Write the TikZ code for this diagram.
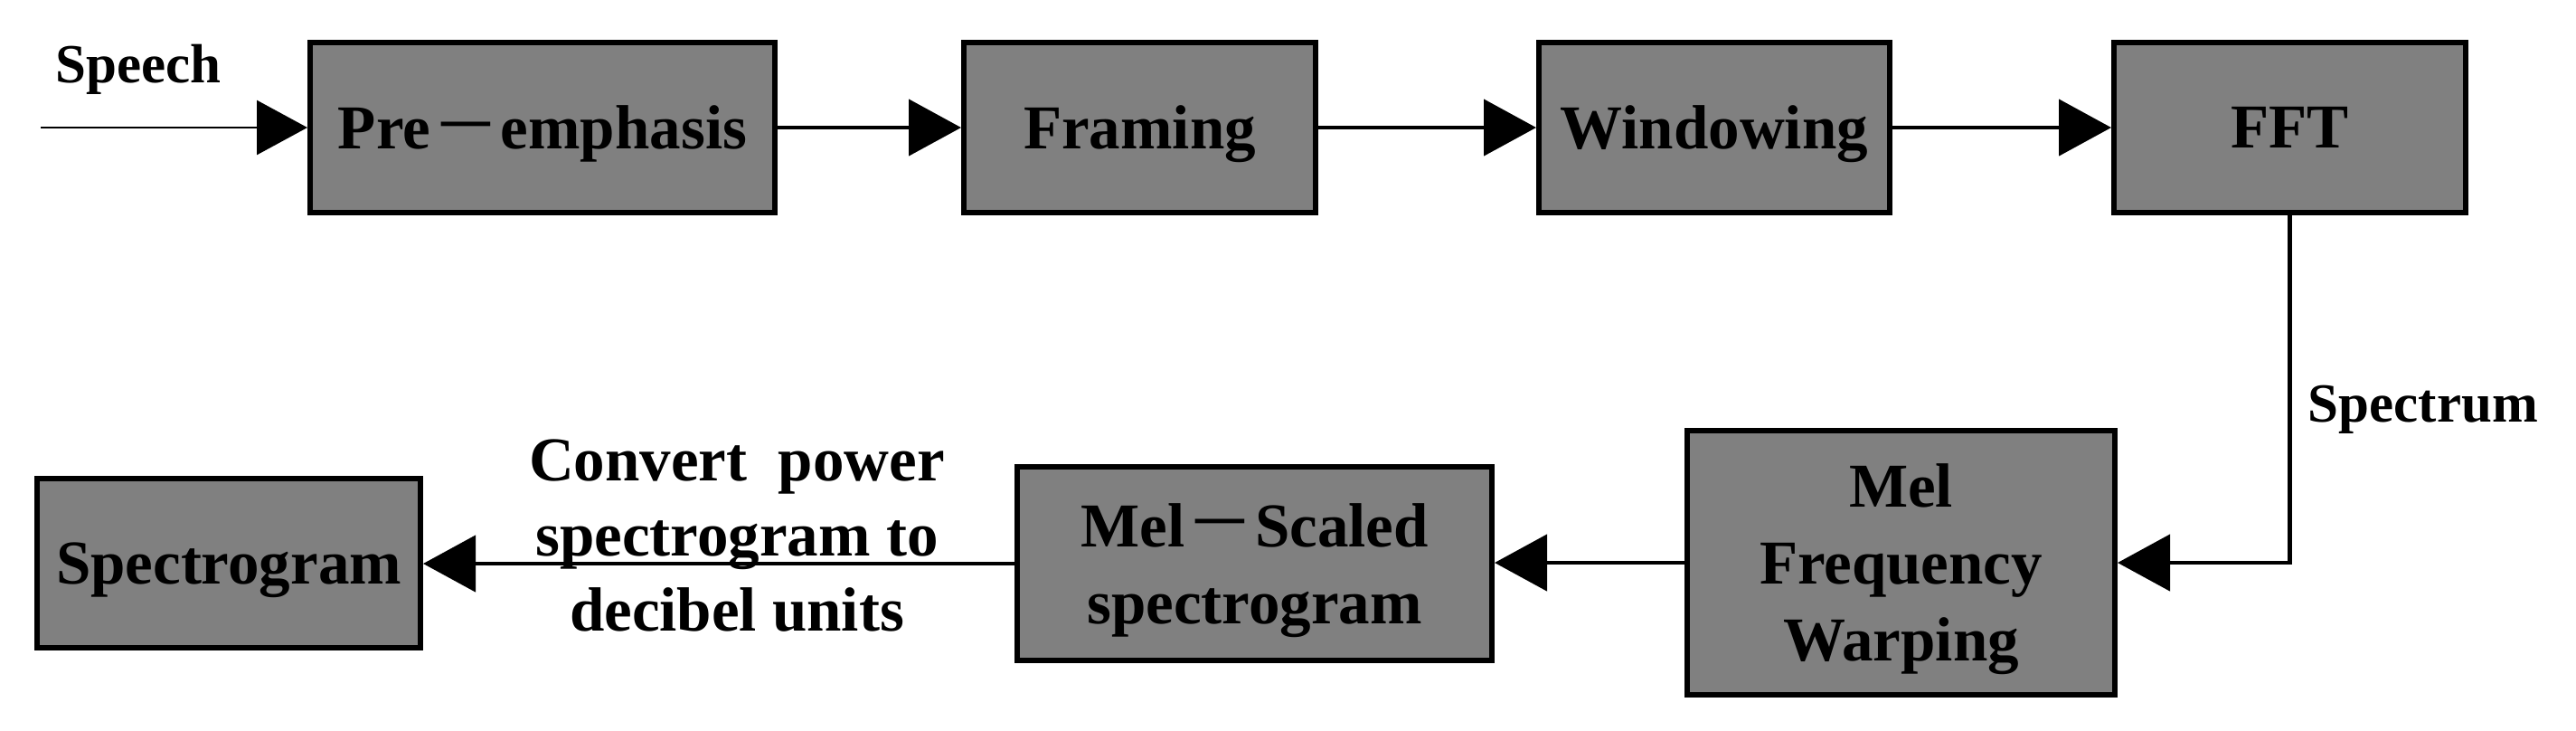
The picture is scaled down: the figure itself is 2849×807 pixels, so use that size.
\documentclass[tikz,border=0pt]{standalone}
\usepackage{fontspec}
\setmainfont{Liberation Serif}
\usetikzlibrary{arrows.meta}
\definecolor{boxgray}{RGB}{128,128,128}
\tikzset{
  blk/.style={draw=black, line width=1.5pt, fill=boxgray, inner sep=0pt, align=center,
    text depth=0pt, font=\bfseries\fontsize{17.25}{21.25}\selectfont},
  conn/.style={line width=1.15pt, -{Triangle[length=14.5pt,width=15.5pt]}},
  inconn/.style={line width=0.7pt, -{Triangle[length=14pt,width=15pt]}},
  lbl/.style={font=\bfseries\fontsize{15.25}{18}\selectfont, inner sep=0pt},
  biglbl/.style={font=\bfseries\fontsize{17.25}{20.75}\selectfont, inner sep=0pt, align=center},
}
\newcommand{\fwdash}{\kern3pt\raisebox{2.9pt}{\scalebox{0.78}[1]{—}}\kern3pt}
\begin{document}
\begin{tikzpicture}[x=0.25pt,y=-0.25pt]
\useasboundingbox (0,0) rectangle (2849,807);
% top row
\node[blk, minimum width=128.5pt, minimum height=47pt] (pre) at (600,141) {Pre\fwdash emphasis};
\node[blk, minimum width=97.25pt, minimum height=47pt] (frm) at (1260.5,141) {Framing};
\node[blk, minimum width=97pt, minimum height=47pt] (win) at (1896,141) {Windowing};
\node[blk, minimum width=97.25pt, minimum height=47pt] (fft) at (2532.5,141) {FFT};
% bottom row
\node[blk, minimum width=118.25pt, minimum height=73pt] (mfw) at (2102.5,622) {Mel\\Frequency\\Warping};
\node[blk, minimum width=131.25pt, minimum height=53.5pt] (mss) at (1387.5,623) {Mel\fwdash Scaled\\spectrogram};
\node[blk, minimum width=106pt, minimum height=46.75pt] (spg) at (253,622.5) {Spectrogram};
% labels
\node[lbl, anchor=base west] (speech) at (61,91) {Speech};
\node[lbl, anchor=base west] (spectrum) at (2552,466) {Spectrum};
\node[biglbl] (conv) at (815,592) {Convert\ \ power\\spectrogram to\\decibel units};
% connectors
\coordinate (in) at (45,141);
\draw[inconn] (in) -- (pre.west);
\draw[conn] (pre.east) -- (frm.west);
\draw[conn] (frm.east) -- (win.west);
\draw[conn] (win.east) -- (fft.west);
\draw[conn] (fft.south) |- (mfw.east);
\draw[conn] (mfw.west) -- (mfw.west -| mss.east);
\draw[conn] (mss.west) -- (mss.west -| spg.east);
\end{tikzpicture}
\end{document}
